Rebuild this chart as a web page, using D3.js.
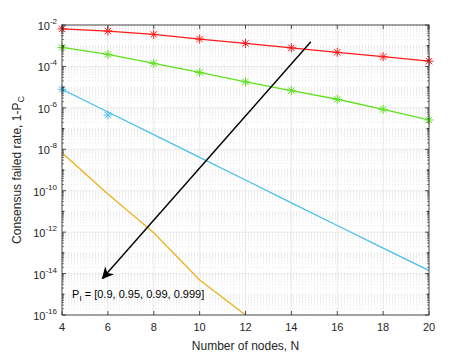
<!DOCTYPE html>
<html><head><meta charset="utf-8">
<script src="https://cdn.jsdelivr.net/npm/d3@7"></script>
<style>
html,body{margin:0;padding:0;background:#fff;}
svg{display:block;font-family:"Liberation Sans",Arial,Helvetica,sans-serif;}
</style></head>
<body>
<svg id="chart" width="474" height="355"></svg>
<script>
const nodes = [4, 6, 8, 10, 12, 14, 16, 18, 20];
const seriesRed    = [6.5e-3, 5.1e-3, 3.5e-3, 2.1e-3, 1.3e-3, 7.9e-4, 4.8e-4, 2.95e-4, 1.8e-4];
const seriesGreen  = [8.3e-4, 3.8e-4, 1.4e-4, 5.1e-5, 1.8e-5, 6.8e-6, 2.6e-6, 8.5e-7, 2.6e-7];
const seriesBlue   = [7.9e-6, 6.3e-7, 5.1e-8, 4.1e-9, 3.3e-10, 2.6e-11, 2.1e-12, 1.7e-13, 1.4e-14];
const blueMarkN    = [4, 6];
const blueMarkV    = [7.9e-6, 4.5e-7];
const yellowN      = [4, 6, 8, 10, 12];
const seriesYellow = [6.8e-9, 6.9e-11, 9.3e-13, 4.9e-15, 1.0e-16];
const xTicks = [4, 6, 8, 10, 12, 14, 16, 18, 20];
const yTickExp = [-16, -14, -12, -10, -8, -6, -4, -2];
const annotationText = ["P", "I", " = [0.9, 0.95, 0.99, 0.999]"];
const arrowFrom = [14.85, Math.pow(10, -2.81)];
const arrowTo = [5.77, Math.pow(10, -14.23)];
const annotPos = [4.44, Math.pow(10, -15.2)];

const svg = d3.select("#chart");
const L = 62, R = 429, T = 25, B = 315;
const x = d3.scaleLinear().domain([4, 20]).range([L, R]);
const y = d3.scaleLog().domain([1e-16, 1e-2]).range([B, T]);

const defs = svg.append("defs");
defs.append("clipPath").attr("id", "clip").append("rect")
  .attr("x", L).attr("y", T).attr("width", R - L).attr("height", B - T);

// grid
const g = svg.append("g");
const minorY = [];
for (let e = -16; e < -2; e++) {
  for (let m = 2; m <= 9; m++) minorY.push(m * Math.pow(10, e));
  if (e % 2 !== 0) minorY.push(Math.pow(10, e));
}
g.selectAll("line.miny").data(minorY).join("line")
  .attr("x1", L).attr("x2", R).attr("y1", d => y(d)).attr("y2", d => y(d))
  .attr("stroke", "#d8d8d8").attr("stroke-width", 0.6).attr("stroke-dasharray", "1,2");
g.selectAll("line.majy").data(yTickExp).join("line")
  .attr("x1", L).attr("x2", R).attr("y1", d => y(Math.pow(10, d))).attr("y2", d => y(Math.pow(10, d)))
  .attr("stroke", "#e3e3e3").attr("stroke-width", 0.7);
const minorX = d3.range(4, 20.001, 0.5).filter(v => v % 2 !== 0);
g.selectAll("line.minx").data(minorX).join("line")
  .attr("y1", T).attr("y2", B).attr("x1", d => x(d)).attr("x2", d => x(d))
  .attr("stroke", "#e6e6e6").attr("stroke-width", 0.5).attr("stroke-dasharray", "1,2");
g.selectAll("line.majx").data(xTicks).join("line")
  .attr("y1", T).attr("y2", B).attr("x1", d => x(d)).attr("x2", d => x(d))
  .attr("stroke", "#e3e3e3").attr("stroke-width", 0.7);

// lines
const plot = svg.append("g").attr("clip-path", "url(#clip)");
const line = d3.line().x(d => x(d[0])).y(d => y(d[1]));
const zip = (a, b) => a.map((v, i) => [v, b[i]]);
const series = [
  {data: zip(nodes, seriesRed), color: "#ff1a1a"},
  {data: zip(nodes, seriesGreen), color: "#5ee11e"},
  {data: zip(nodes, seriesBlue), color: "#4dbeee"},
  {data: zip(yellowN, seriesYellow), color: "#edb120"}
];
plot.selectAll("path.s").data(series).join("path")
  .attr("d", d => line(d.data)).attr("fill", "none")
  .attr("stroke", d => d.color).attr("stroke-width", 1.3);

// star markers
const markerSets = [
  {data: zip(nodes, seriesRed), color: "#ff1a1a"},
  {data: zip(nodes, seriesGreen), color: "#5ee11e"},
  {data: zip(blueMarkN, blueMarkV), color: "#4dbeee"}
];
const starPath = (r) => {
  const d = r * 0.7071;
  return `M${-r},0L${r},0M0,${-r}L0,${r}M${-d},${-d}L${d},${d}M${-d},${d}L${d},${-d}`;
};
markerSets.forEach(ms => {
  svg.append("g").selectAll("path").data(ms.data).join("path")
    .attr("transform", d => `translate(${x(d[0])},${y(d[1])})`)
    .attr("d", starPath(4.5)).attr("fill", "none")
    .attr("stroke", ms.color).attr("stroke-width", 1);
});

// axes box and ticks
const ax = svg.append("g");
ax.append("rect").attr("x", L).attr("y", T).attr("width", R - L).attr("height", B - T)
  .attr("fill", "none").attr("stroke", "#262626").attr("stroke-width", 0.8);
xTicks.forEach(t => {
  ax.append("line").attr("x1", x(t)).attr("x2", x(t)).attr("y1", B).attr("y2", B - 4).attr("stroke", "#262626").attr("stroke-width", 0.8);
  ax.append("line").attr("x1", x(t)).attr("x2", x(t)).attr("y1", T).attr("y2", T + 4).attr("stroke", "#262626").attr("stroke-width", 0.8);
  ax.append("text").attr("x", x(t)).attr("y", B + 16).attr("text-anchor", "middle")
    .attr("font-size", 11).attr("fill", "#262626").text(t);
});
const allDec = d3.range(-16, -1);
allDec.forEach(e => {
  const len = (e % 2 === 0) ? 4 : 2.5;
  const yy = y(Math.pow(10, e));
  ax.append("line").attr("x1", L).attr("x2", L + len).attr("y1", yy).attr("y2", yy).attr("stroke", "#262626").attr("stroke-width", 0.8);
  ax.append("line").attr("x1", R).attr("x2", R - len).attr("y1", yy).attr("y2", yy).attr("stroke", "#262626").attr("stroke-width", 0.8);
});
minorY.forEach(v => {
  const yy = y(v);
  ax.append("line").attr("x1", L).attr("x2", L + 2).attr("y1", yy).attr("y2", yy).attr("stroke", "#262626").attr("stroke-width", 0.6);
  ax.append("line").attr("x1", R).attr("x2", R - 2).attr("y1", yy).attr("y2", yy).attr("stroke", "#262626").attr("stroke-width", 0.6);
});
yTickExp.forEach(e => {
  const t = ax.append("text").attr("x", L - 5).attr("y", y(Math.pow(10, e)) + 5)
    .attr("text-anchor", "end").attr("font-size", 11).attr("fill", "#262626");
  t.append("tspan").text("10");
  t.append("tspan").attr("dy", -6).attr("font-size", 8).text(e);
});

// axis labels
svg.append("text").attr("x", (L + R) / 2).attr("y", 350).attr("text-anchor", "middle")
  .attr("font-size", 12).attr("fill", "#262626").text("Number of nodes, N");
const yl = svg.append("text").attr("transform", `translate(21,${(T + B) / 2}) rotate(-90)`)
  .attr("text-anchor", "middle").attr("font-size", 12).attr("fill", "#262626");
yl.append("tspan").text("Consensus failed rate, 1-P");
yl.append("tspan").attr("dy", 3).attr("font-size", 9).text("C");

// arrow
defs.append("marker").attr("id", "ah").attr("viewBox", "0 0 10 10")
  .attr("refX", 9).attr("refY", 5).attr("markerWidth", 7).attr("markerHeight", 7)
  .attr("orient", "auto").attr("markerUnits", "userSpaceOnUse")
  .append("path").attr("d", "M0,0L10,5L0,10L3,5Z").attr("fill", "#000");
svg.append("line")
  .attr("x1", x(arrowFrom[0])).attr("y1", y(arrowFrom[1]))
  .attr("x2", x(arrowTo[0])).attr("y2", y(arrowTo[1]))
  .attr("stroke", "#000").attr("stroke-width", 1.4)
  .attr("marker-end", "url(#ah)");
defs.select("#ah").attr("markerWidth", 12).attr("markerHeight", 12);

// annotation
const an = svg.append("text").attr("x", x(annotPos[0])).attr("y", y(annotPos[1]))
  .attr("font-size", 11).attr("fill", "#000");
an.append("tspan").text(annotationText[0]);
an.append("tspan").attr("dy", 3).attr("font-size", 8).text(annotationText[1]);
an.append("tspan").attr("dy", -3).text(annotationText[2]);
</script>
</body></html>
